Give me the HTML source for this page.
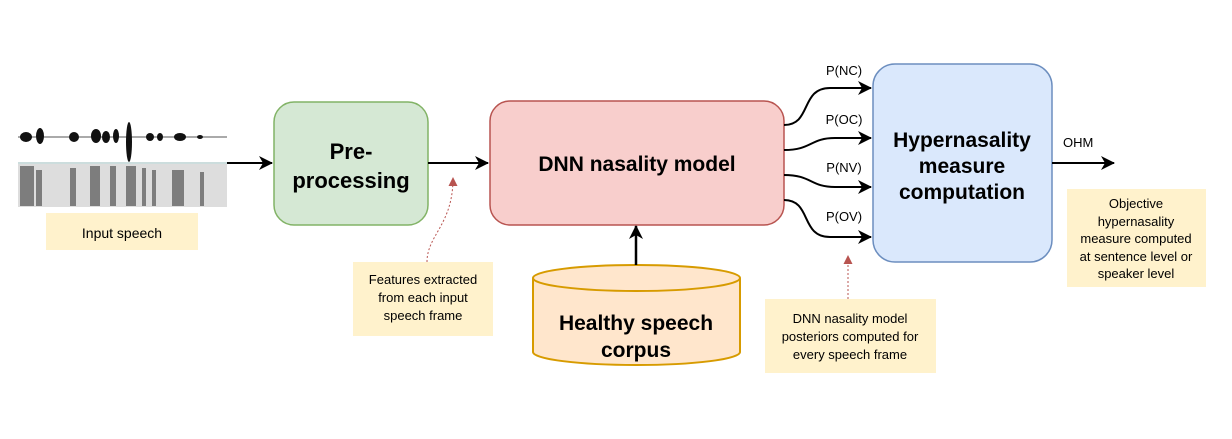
<!DOCTYPE html>
<html><head><meta charset="utf-8"><style>body{margin:0;background:#fff}svg{display:block}text{font-family:"Liberation Sans",Arial,sans-serif}</style></head>
<body>
<svg width="1232" height="439" viewBox="0 0 1232 439" xmlns="http://www.w3.org/2000/svg">
<defs>
<marker id="a" markerWidth="14" markerHeight="14" refX="13" refY="7" orient="auto" markerUnits="userSpaceOnUse"><path d="M0,0 L14,7 L0,14 L4,7 z" fill="#000"/></marker>
<marker id="r" markerWidth="9" markerHeight="9" refX="8" refY="4.5" orient="auto" markerUnits="userSpaceOnUse"><path d="M0,0 L9,4.5 L0,9 z" fill="#b85450"/></marker>
</defs>
<line x1="18" y1="137" x2="227" y2="137" stroke="#555" stroke-width="1"/>
<g fill="#111">
<ellipse cx="26" cy="137" rx="6" ry="5"/><ellipse cx="40" cy="136" rx="4" ry="8"/><ellipse cx="74" cy="137" rx="5" ry="5"/><ellipse cx="96" cy="136" rx="5" ry="7"/><ellipse cx="106" cy="137" rx="4" ry="6"/><ellipse cx="116" cy="136" rx="3" ry="7"/><ellipse cx="129" cy="142" rx="3" ry="20"/><ellipse cx="150" cy="137" rx="4" ry="4"/><ellipse cx="160" cy="137" rx="3" ry="4"/><ellipse cx="180" cy="137" rx="6" ry="4"/><ellipse cx="200" cy="137" rx="3" ry="2"/>
</g>
<line x1="18" y1="163" x2="227" y2="163" stroke="#9bb" stroke-width="1"/>
<rect x="18" y="164" width="209" height="43" fill="#ddd"/>
<g fill="#555" opacity="0.7">
<rect x="20" y="166" width="14" height="40"/><rect x="36" y="170" width="6" height="36"/><rect x="70" y="168" width="6" height="38"/><rect x="90" y="166" width="10" height="40"/><rect x="110" y="166" width="6" height="40"/><rect x="126" y="166" width="10" height="40"/><rect x="142" y="168" width="4" height="38"/><rect x="152" y="170" width="4" height="36"/><rect x="172" y="170" width="12" height="36"/><rect x="200" y="172" width="4" height="34"/>
</g>
<rect x="46" y="213" width="152" height="37" fill="#fff2cc"/>
<text x="122" y="238" font-size="14" text-anchor="middle">Input speech</text>
<line x1="227" y1="163" x2="272" y2="163" stroke="#000" stroke-width="2" marker-end="url(#a)"/>
<rect x="274" y="102" width="154" height="123" rx="20" fill="#d5e8d4" stroke="#82b366" stroke-width="1.5"/>
<text x="351" y="159" font-size="22" font-weight="bold" text-anchor="middle">Pre-</text>
<text x="351" y="188" font-size="22" font-weight="bold" text-anchor="middle">processing</text>
<line x1="428" y1="163" x2="488" y2="163" stroke="#000" stroke-width="2" marker-end="url(#a)"/>
<rect x="490" y="101" width="294" height="124" rx="20" fill="#f8cecc" stroke="#b85450" stroke-width="1.5"/>
<text x="637" y="171" font-size="21" font-weight="bold" text-anchor="middle">DNN nasality model</text>
<rect x="353" y="262" width="140" height="74" fill="#fff2cc"/>
<text font-size="13" text-anchor="middle"><tspan x="423" y="284">Features extracted</tspan><tspan x="423" y="302">from each input</tspan><tspan x="423" y="320">speech frame</tspan></text>
<path d="M427,262 C427,235 453,225 453,178" fill="none" stroke="#b85450" stroke-width="1" stroke-dasharray="2,2" marker-end="url(#r)"/>
<path d="M533,278 L533,352 A103.5,13 0 0 0 740,352 L740,278" fill="#ffe6cc" stroke="#d79b00" stroke-width="2"/>
<ellipse cx="636.5" cy="278" rx="103.5" ry="13" fill="#ffe6cc" stroke="#d79b00" stroke-width="2"/>
<text x="636" y="330" font-size="21" font-weight="bold" text-anchor="middle">Healthy speech</text>
<text x="636" y="357" font-size="21" font-weight="bold" text-anchor="middle">corpus</text>
<line x1="636" y1="265" x2="636" y2="226" stroke="#000" stroke-width="2.5" marker-end="url(#a)"/>
<g fill="none" stroke="#000" stroke-width="2">
<path d="M784,125 C812,125 800,88 830,88 L871,88" marker-end="url(#a)"/>
<path d="M784,150 C812,150 810,138 835,138 L871,138" marker-end="url(#a)"/>
<path d="M784,175 C812,175 810,187 835,187 L871,187" marker-end="url(#a)"/>
<path d="M784,200 C812,200 800,237 830,237 L871,237" marker-end="url(#a)"/>
</g>
<g font-size="13" text-anchor="middle">
<text x="844" y="75">P(NC)</text><text x="844" y="124">P(OC)</text><text x="844" y="172">P(NV)</text><text x="844" y="221">P(OV)</text>
</g>
<rect x="873" y="64" width="179" height="198" rx="22" fill="#dae8fc" stroke="#6c8ebf" stroke-width="1.5"/>
<text font-size="21" font-weight="bold" text-anchor="middle"><tspan x="962" y="147">Hypernasality</tspan><tspan x="962" y="173">measure</tspan><tspan x="962" y="199">computation</tspan></text>
<line x1="1052" y1="163" x2="1114" y2="163" stroke="#000" stroke-width="2" marker-end="url(#a)"/>
<text x="1063" y="147" font-size="13">OHM</text>
<rect x="1067" y="189" width="139" height="98" fill="#fff2cc"/>
<text font-size="13" text-anchor="middle"><tspan x="1136" y="208">Objective</tspan><tspan x="1136" y="226">hypernasality</tspan><tspan x="1136" y="243">measure computed</tspan><tspan x="1136" y="261">at sentence level or</tspan><tspan x="1136" y="278">speaker level</tspan></text>
<rect x="765" y="299" width="171" height="74" fill="#fff2cc"/>
<text font-size="13" text-anchor="middle"><tspan x="850" y="323">DNN nasality model</tspan><tspan x="850" y="341">posteriors computed for</tspan><tspan x="850" y="359">every speech frame</tspan></text>
<line x1="848" y1="299" x2="848" y2="256" stroke="#b85450" stroke-width="1" stroke-dasharray="2,2" marker-end="url(#r)"/>
</svg>
</body></html>
